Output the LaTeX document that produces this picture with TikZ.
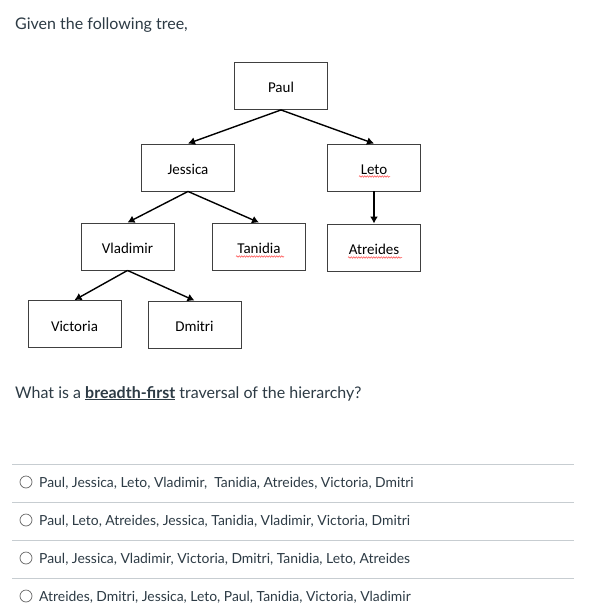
\documentclass[tikz,border=0pt]{standalone}
\usepackage{fontspec}
\setmainfont{Lato}
\newfontfamily\calib{Carlito}
\usetikzlibrary{arrows.meta,decorations.pathmorphing}
\definecolor{txt}{HTML}{2D3B45}
\definecolor{rulec}{HTML}{C7CDD1}
\begin{document}
\begin{tikzpicture}[x=1pt,y=-1pt,
 tbox/.style={draw=black!75,line width=0.9pt,minimum width=93pt,minimum height=47pt,inner sep=0pt,text height=14pt,text depth=0pt,font=\calib\fontsize{15}{17}\selectfont},
 edge/.style={-{Latex[length=7pt,width=8pt]},line width=1.4pt},
 spell/.style={red!75,line width=0.5pt,decorate,decoration={snake,amplitude=0.7pt,segment length=2.5pt}},
 ptext/.style={anchor=base west,inner sep=0pt,text=txt,font=\fontsize{16}{19}\selectfont},
 atext/.style={anchor=base west,inner sep=0pt,text=txt,font=\fontsize{13.9}{17}\selectfont},
 sepline/.style={draw=rulec,line width=1pt},
 radio/.style={circle,draw=black!60,line width=0.7pt,minimum size=12pt,inner sep=0pt}]
\useasboundingbox[fill=white] (0,0) rectangle (589,615);
% title and question
\node[ptext] (title) at (15,30) {Given the following tree,};
\node[ptext] (question) at (15,398) {What is a \textbf{\underline{breadth-first}} traversal of the hierarchy?};
% tree
\node[tbox] (paul) at (281,86) {Paul};
\node[tbox] (jessica) at (188,167.5) {Jessica};
\node[tbox] (leto) at (374,167.5) {Leto};
\node[tbox] (vladimir) at (127.5,246.5) {Vladimir};
\node[tbox] (tanidia) at (259,246.5) {Tanidia};
\node[tbox] (atreides) at (374,247.5) {Atreides};
\node[tbox] (victoria) at (74.5,324) {Victoria};
\node[tbox] (dmitri) at (194.5,324.5) {Dmitri};
\draw[edge] (paul.south) -- (jessica.north);
\draw[edge] (paul.south) -- (leto.north);
\draw[edge] (leto.south) -- (atreides.north);
\draw[edge] (jessica.south) -- (vladimir.north);
\draw[edge] (jessica.south) -- (tanidia.north);
\draw[edge] (vladimir.south) -- (victoria.north);
\draw[edge] (vladimir.south) -- (dmitri.north);
% spell-check marks
\draw[spell] ([xshift=-15pt,yshift=-9pt]leto.center) -- ([xshift=16pt,yshift=-9pt]leto.center);
\draw[spell] ([xshift=-23pt,yshift=-10pt]tanidia.center) -- ([xshift=25pt,yshift=-10pt]tanidia.center);
\draw[spell] ([xshift=-26pt,yshift=-10pt]atreides.center) -- ([xshift=28pt,yshift=-10pt]atreides.center);
% answers
\coordinate (l1a) at (12,464); \coordinate (l1b) at (574,464);
\coordinate (l2a) at (12,502); \coordinate (l2b) at (574,502);
\coordinate (l3a) at (12,540); \coordinate (l3b) at (574,540);
\coordinate (l4a) at (12,578); \coordinate (l4b) at (574,578);
\draw[sepline] (l1a) -- (l1b);
\draw[sepline] (l2a) -- (l2b);
\draw[sepline] (l3a) -- (l3b);
\draw[sepline] (l4a) -- (l4b);
\node[radio] (r1) at (26,482) {};
\node[radio] (r2) at (26,520) {};
\node[radio] (r3) at (26,558) {};
\node[radio] (r4) at (26,596) {};
\node[atext] (a1) at (39,487) {Paul, Jessica, Leto, Vladimir,\ \ Tanidia, Atreides, Victoria, Dmitri};
\node[atext] (a2) at (39,525) {Paul, Leto, Atreides, Jessica, Tanidia, Vladimir, Victoria, Dmitri};
\node[atext] (a3) at (39,563) {Paul, Jessica, Vladimir, Victoria, Dmitri, Tanidia, Leto, Atreides};
\node[atext] (a4) at (39,601) {Atreides, Dmitri, Jessica, Leto, Paul, Tanidia, Victoria, Vladimir};
\end{tikzpicture}
\end{document}
